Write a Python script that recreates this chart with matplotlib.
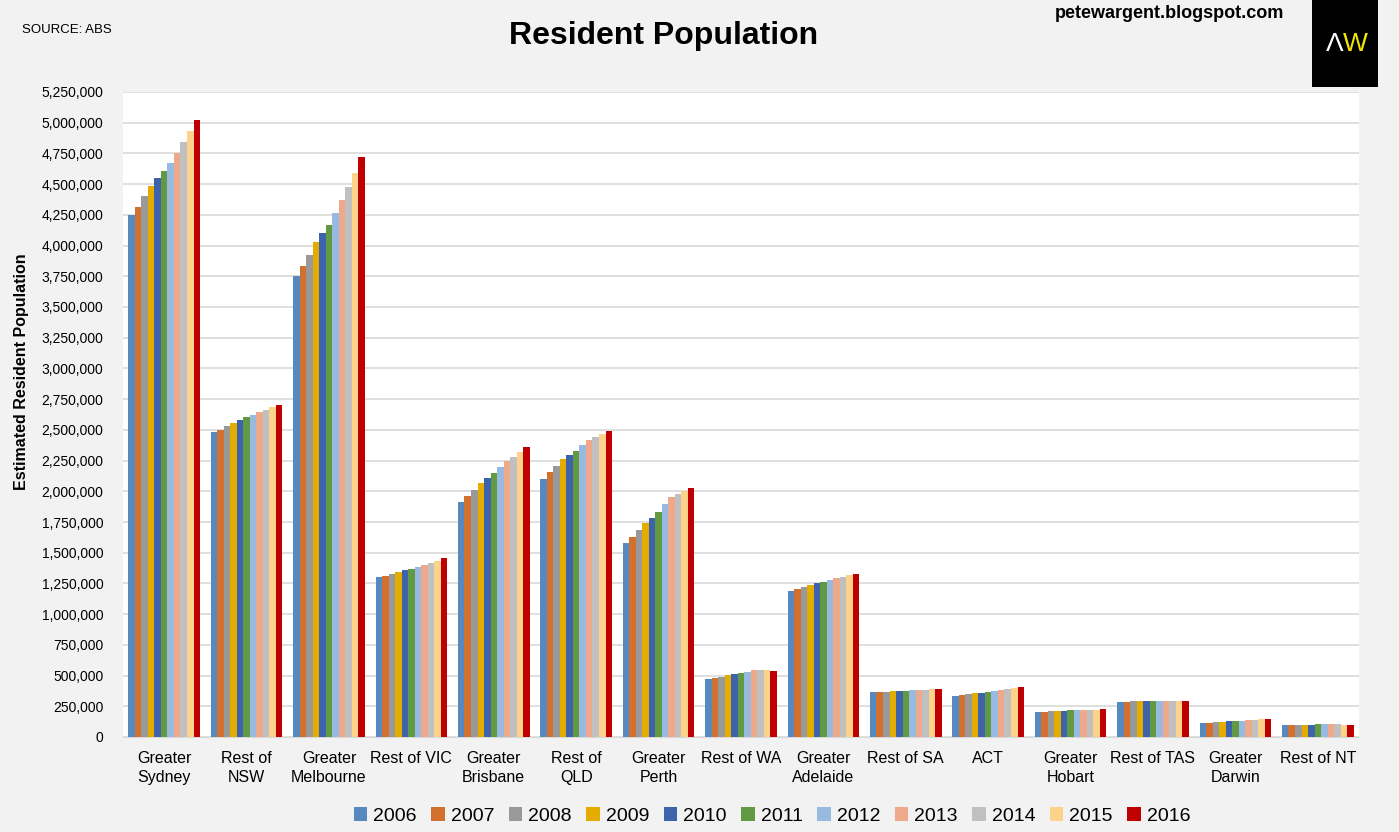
import numpy as np
import matplotlib
matplotlib.use("Agg")
from matplotlib import pyplot as plt
from matplotlib.patches import Rectangle
from matplotlib.ticker import FuncFormatter, MultipleLocator

plt.rcParams['font.family'] = ['Liberation Sans Narrow', 'Liberation Sans', 'DejaVu Sans']

regions = ["Greater\nSydney", "Rest of\nNSW", "Greater\nMelbourne", "Rest of VIC",
           "Greater\nBrisbane", "Rest of\nQLD", "Greater\nPerth", "Rest of WA",
           "Greater\nAdelaide", "Rest of SA", "ACT", "Greater\nHobart",
           "Rest of TAS", "Greater\nDarwin", "Rest of NT"]
years = [str(y) for y in range(2006, 2017)]

# population by region, one list per year (millions)
pop_2006 = [4.246, 2.479, 3.750, 1.299, 1.909, 2.097, 1.576, 0.472, 1.188, 0.366, 0.334, 0.203, 0.285, 0.114, 0.098]
pop_2007 = [4.318, 2.497, 3.832, 1.307, 1.958, 2.153, 1.625, 0.480, 1.204, 0.366, 0.342, 0.203, 0.285, 0.114, 0.098]
pop_2008 = [4.400, 2.531, 3.921, 1.324, 2.007, 2.202, 1.682, 0.488, 1.220, 0.366, 0.350, 0.212, 0.293, 0.122, 0.098]
pop_2009 = [4.483, 2.555, 4.027, 1.340, 2.064, 2.259, 1.739, 0.504, 1.237, 0.374, 0.358, 0.212, 0.293, 0.122, 0.098]
pop_2010 = [4.548, 2.579, 4.099, 1.356, 2.105, 2.292, 1.779, 0.513, 1.253, 0.374, 0.358, 0.212, 0.293, 0.130, 0.098]
pop_2011 = [4.606, 2.603, 4.164, 1.364, 2.145, 2.324, 1.828, 0.521, 1.261, 0.374, 0.366, 0.220, 0.293, 0.130, 0.106]
pop_2012 = [4.671, 2.620, 4.264, 1.381, 2.194, 2.373, 1.893, 0.529, 1.277, 0.382, 0.374, 0.220, 0.293, 0.130, 0.106]
pop_2013 = [4.750, 2.644, 4.370, 1.397, 2.246, 2.414, 1.950, 0.545, 1.294, 0.382, 0.382, 0.220, 0.293, 0.138, 0.106]
pop_2014 = [4.839, 2.661, 4.476, 1.413, 2.276, 2.438, 1.974, 0.545, 1.302, 0.382, 0.391, 0.220, 0.293, 0.138, 0.106]
pop_2015 = [4.932, 2.685, 4.589, 1.429, 2.316, 2.463, 1.999, 0.545, 1.318, 0.391, 0.399, 0.220, 0.293, 0.146, 0.098]
pop_2016 = [5.021, 2.702, 4.719, 1.454, 2.357, 2.487, 2.023, 0.537, 1.326, 0.391, 0.407, 0.228, 0.293, 0.146, 0.098]

series = [pop_2006, pop_2007, pop_2008, pop_2009, pop_2010, pop_2011,
          pop_2012, pop_2013, pop_2014, pop_2015, pop_2016]
colors = ["#5689c0", "#d2702f", "#999999", "#e5ac00", "#3d63ad", "#629a43",
          "#98b9e0", "#eea98a", "#c0c0c0", "#fdd28a", "#c00000"]

fig = plt.figure(figsize=(13.99, 8.32), dpi=100)
fig.patch.set_facecolor("#f2f2f2")
ax = fig.add_axes([123 / 1399, 95 / 832, 1236 / 1399, 645 / 832])
ax.set_facecolor("white")

x = np.arange(len(regions))
group = 0.87
w = group / len(series)
for i, (vals, c) in enumerate(zip(series, colors)):
    ax.bar(x - group / 2 + w * (i + 0.5), np.array(vals) * 1e6, width=w, color=c,
           label=years[i], zorder=3)

ax.set_xlim(-0.5, len(regions) - 0.5)
ax.set_ylim(0, 5.25e6)
ax.yaxis.set_major_locator(MultipleLocator(250000))
ax.yaxis.set_major_formatter(FuncFormatter(lambda v, p: f"{int(round(v)):,}"))
ax.grid(axis="y", color="#d9d9d9", linewidth=1.2, zorder=0)
ax.set_xticks(x)
ax.set_xticklabels(regions, fontsize=11.5, linespacing=1.35)
ax.tick_params(axis="y", length=0, pad=14, labelsize=10)
ax.tick_params(axis="x", length=0, pad=10)
for s in ["top", "left", "right"]:
    ax.spines[s].set_visible(False)
ax.spines["bottom"].set_color("#d9d9d9")

fig.text(22 / 1399, 1 - 372 / 832, "Estimated Resident Population", rotation=90,
         fontsize=11.5, fontweight="bold", ha="center", va="center",
         family=['Liberation Sans', 'DejaVu Sans'])
fig.text(664 / 1399, 1 - 36 / 832, "Resident Population", fontsize=23,
         fontweight="bold", ha="center", va="center")
fig.text(22 / 1399, 1 - 30 / 832, "SOURCE: ABS", fontsize=9.5, ha="left",
         va="center", family=['Liberation Sans', 'DejaVu Sans'])
fig.text(1170 / 1399, 1 - 14 / 832, "petewargent.blogspot.com", fontsize=13,
         fontweight="bold", ha="center", va="center",
         family=['Liberation Sans', 'DejaVu Sans'])

fig.patches.append(Rectangle((1312 / 1399, 1 - 87 / 832), 66 / 1399, 87 / 832,
                             transform=fig.transFigure, facecolor="black",
                             edgecolor="none"))
fig.text(1344 / 1399, 1 - 44 / 832, "Λ", color="white", fontsize=19,
         ha="right", va="center", family=['Liberation Sans', 'DejaVu Sans'])
fig.text(1343 / 1399, 1 - 44 / 832, "W", color="#f2e600", fontsize=19,
         ha="left", va="center", family=['Liberation Sans', 'DejaVu Sans'])

fig.legend(loc="center", bbox_to_anchor=(772 / 1399, 1 - 816 / 832), ncol=11,
           frameon=False, fontsize=14, handlelength=0.7, handleheight=0.7,
           handletextpad=0.3, columnspacing=0.75)

fig.savefig("out.png", dpi=100, facecolor=fig.get_facecolor())
